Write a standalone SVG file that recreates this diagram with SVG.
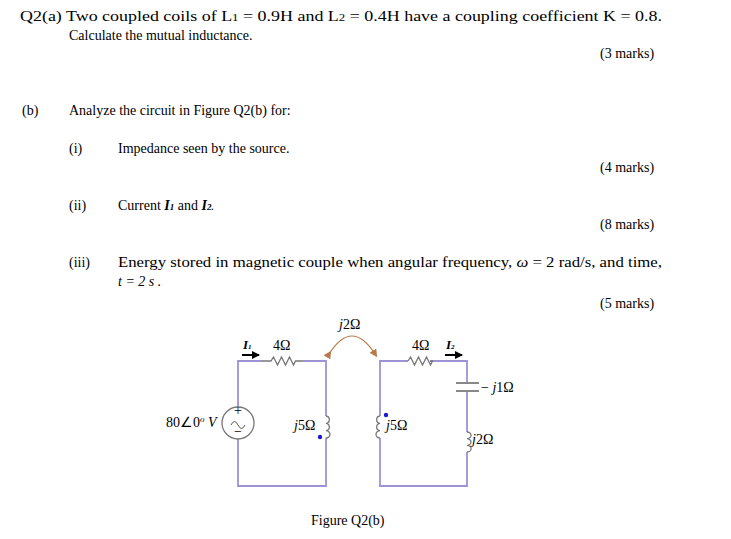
<svg xmlns="http://www.w3.org/2000/svg" width="731" height="539" viewBox="0 0 731 539">
<style>
text{font-family:"Liberation Serif",serif;font-size:14px;fill:#000}
.w{fill:none;stroke:#9b93d6;stroke-width:1.8}
.c{fill:none;stroke:#777;stroke-width:1.3}
.lb{font-size:13px;font-style:italic}
</style>
<defs><marker id="ar" markerWidth="8" markerHeight="8" refX="7" refY="4" orient="auto" markerUnits="userSpaceOnUse"><path d="M0,0L8,4L0,8z" fill="#000"/></marker>
<marker id="ob" markerWidth="8" markerHeight="8" refX="4" refY="4" orient="auto" markerUnits="userSpaceOnUse"><path d="M0,0L8,4L0,8z" fill="#b9794a"/></marker></defs>
<rect width="731" height="539" fill="#fff"/>
<g id="text">
<text x="20" y="21" textLength="642" lengthAdjust="spacingAndGlyphs">Q2(a)  Two coupled coils of L<tspan font-size="10">1</tspan> = 0.9H and L<tspan font-size="10">2</tspan> = 0.4H have a coupling coefficient K = 0.8.</text>
<text x="69" y="40">Calculate the mutual inductance.</text>
<text x="600" y="58">(3 marks)</text>
<text x="22" y="115">(b)</text>
<text x="69" y="115">Analyze the circuit in Figure Q2(b) for:</text>
<text x="69" y="153">(i)</text>
<text x="118" y="153">Impedance seen by the source.</text>
<text x="600" y="172">(4 marks)</text>
<text x="69" y="210">(ii)</text>
<text x="118" y="210">Current <tspan font-weight="bold" font-style="italic">I</tspan><tspan font-size="9" font-weight="bold" font-style="italic">1</tspan> and <tspan font-weight="bold" font-style="italic">I</tspan><tspan font-size="9" font-weight="bold" font-style="italic">2.</tspan></text>
<text x="600" y="229">(8 marks)</text>
<text x="69" y="267">(iii)</text>
<text x="118" y="267" textLength="544" lengthAdjust="spacingAndGlyphs">Energy stored in magnetic couple when angular frequency, <tspan font-style="italic">ω</tspan> = 2 rad/s, and time,</text>
<text x="118" y="286" font-style="italic">t = 2 s .</text>
<text x="600" y="308">(5 marks)</text>
<text x="311" y="525">Figure Q2(b)</text>
</g>
<g id="connectors">
<path class="w" d="M238,407V361H262M303,361H326V416M326,438V486H238V439"/>
<path class="w" d="M408,361H380V416M380,438V486H467V452M467,432V391M467,383V361H430"/>
<path class="c" d="M262,361H271l2.5,-4l4,8l4,-8l4,8l4,-8l4,8l2,-4H303"/>
<path class="c" d="M408,361l2.5,-4l4,8l4,-8l4,8l4,-8l4,8l2,-4H430"/>
<path class="c" d="M326,416a4,3.7 0 0 1 0,7.3a4,3.7 0 0 1 0,7.3a4,3.7 0 0 1 0,7.4"/>
<path class="c" d="M380,416a4,3.7 0 0 0 0,7.3a4,3.7 0 0 0 0,7.3a4,3.7 0 0 0 0,7.4"/>
<path class="c" d="M467,432a4,3.3 0 0 1 0,6.7a4,3.3 0 0 1 0,6.6a4,3.3 0 0 1 0,6.7"/>
<path d="M456,383H479M456,391H479" stroke="#888" stroke-width="2"/>
<path d="M329,354Q352,318 375,354" fill="none" stroke="#b9794a" stroke-width="1.2" marker-start="url(#ob)" marker-end="url(#ob)"/>
<path d="M242,355H259" stroke="#000" stroke-width="2" marker-end="url(#ar)"/>
<path d="M445,355H462" stroke="#000" stroke-width="2" marker-end="url(#ar)"/>
</g>
<g id="source">
<circle cx="238" cy="423" r="16" fill="#fff" stroke="#777" stroke-width="1.3"/>
<path d="M231,425q3.5,-7 7,0t7,0" fill="none" stroke="#555"/>
<text x="238" y="415" font-size="9" text-anchor="middle">+</text>
<text x="238" y="436" font-size="9" text-anchor="middle">−</text>
</g>
<g id="dots"><circle cx="320" cy="437" r="2.2" fill="#1a1acc"/><circle cx="386" cy="415" r="2.2" fill="#1a1acc"/></g>
<g id="labels">
<text class="lb" x="243" y="349" font-weight="bold" font-size="10">I<tspan font-size="7">1</tspan></text>
<text x="273" y="350" font-size="13">4Ω</text>
<text x="412" y="350" font-size="13">4Ω</text>
<text class="lb" x="446" y="349" font-weight="bold" font-size="10">I<tspan font-size="7">2</tspan></text>
<text x="339" y="329" font-size="13"><tspan font-style="italic">j</tspan>2Ω</text>
<text x="166" y="427" font-size="13">80∠0<tspan font-style="italic" font-size="9" dy="-5">o</tspan><tspan font-style="italic" dy="5"> V</tspan></text>
<text x="294" y="430" font-size="13"><tspan font-style="italic">j</tspan>5Ω</text>
<text x="386" y="430" font-size="13"><tspan font-style="italic">j</tspan>5Ω</text>
<text x="481" y="392" font-size="13">− <tspan font-style="italic">j</tspan>1Ω</text>
<text x="472" y="444" font-size="13"><tspan font-style="italic">j</tspan>2Ω</text>
</g>
</svg>
